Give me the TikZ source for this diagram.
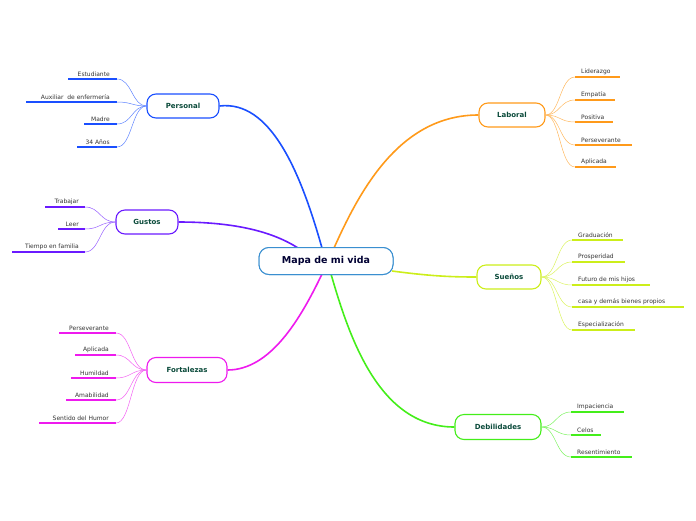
\documentclass[tikz,border=0pt]{standalone}
\usepackage{fontspec}
\setmainfont{DejaVu Sans}
\definecolor{cblue}{HTML}{1A4FFF}
\definecolor{cpurp}{HTML}{6A1AFF}
\definecolor{cmag}{HTML}{EE1AEE}
\definecolor{corg}{HTML}{FF9A1A}
\definecolor{cyel}{HTML}{CCEE1A}
\definecolor{cgrn}{HTML}{44EE1A}
\definecolor{ccen}{HTML}{3A8FD0}
\definecolor{ttxt}{HTML}{0A4A3A}
\begin{document}
\begin{tikzpicture}[x=1pt,y=-1pt,
  branch/.style={draw=#1,line width=1.1pt,rounded corners=9pt,fill=white,font=\bfseries\fontsize{7}{8}\selectfont,text=ttxt,inner sep=0pt},
  main/.style={line width=1.6pt,draw=#1},
  twig/.style={line width=0.5pt,draw=#1!70},
  uline/.style={line width=2.2pt,draw=#1},
  lt/.style={font=\fontsize{6}{7}\selectfont,text=black!80,inner sep=1pt}]
\useasboundingbox (0,0) rectangle (696,520);
\node[draw=ccen,line width=1pt,rounded corners=10pt,fill=white,minimum width=134pt,minimum height=27pt,font=\bfseries\fontsize{9.5}{11}\selectfont,text=black!80!blue] (c) at (326,261) {Mapa de mi vida};
\node[branch=cblue,minimum width=72pt,minimum height=24pt] (P) at (183,106) {Personal};
\node[branch=cpurp,minimum width=62pt,minimum height=24pt] (G) at (147,222) {Gustos};
\node[branch=cmag,minimum width=80pt,minimum height=25pt] (F) at (187,370) {Fortalezas};
\node[branch=corg,minimum width=66pt,minimum height=24pt] (L) at (512,115) {Laboral};
\node[branch=cyel,minimum width=64pt,minimum height=24pt] (S) at (509,277) {Sueños};
\node[branch=cgrn,minimum width=86pt,minimum height=25pt] (D) at (498,427) {Debilidades};
\begin{scope}[on background layer/.style={}]
\end{scope}
% main connectors
\coordinate (cP) at (322,248); \coordinate (cG) at (298,248); \coordinate (cF) at (322,274);
\coordinate (cL) at (334,248); \coordinate (cS) at (392,271); \coordinate (cD) at (331,274);
\draw[main=cblue] (P.east) .. controls (270,100) and (300,170) .. (cP);
\draw[main=cpurp] (G.east) .. controls (230,222) and (270,230) .. (cG);
\draw[main=cmag] (F.east) .. controls (270,370) and (300,320) .. (cF);
\draw[main=corg] (L.west) .. controls (400,115) and (360,190) .. (cL);
\draw[main=cyel] (cS) .. controls (430,276) and (450,277) .. (S.west);
\draw[main=cgrn] (D.west) .. controls (380,427) and (350,340) .. (cD);
\node[draw=ccen,line width=1pt,rounded corners=10pt,fill=white,minimum width=134pt,minimum height=27pt,font=\bfseries\fontsize{9.5}{11}\selectfont,text=black!80!blue] at (326,261) {Mapa de mi vida};
% left leaves: node, color, right x, list of leftx/y/text
\foreach \lx/\ly/\t [count=\i] in {68/79/Estudiante,26/102/Auxiliar\ \ de enfermería,84/124/Madre,77/147/34 Años}{
  \coordinate (pa\i) at (117,\ly); \coordinate (pb\i) at (\lx,\ly);
  \draw[uline=cblue] (pa\i) -- (pb\i);
  \node[lt,anchor=south east] (pt\i) at (111,\ly-1.5) {\t};
  \draw[twig=cblue] (P.west) .. controls (132,106) and (132,\ly) .. (pa\i);}
\foreach \lx/\ly/\t [count=\i] in {45/207/Trabajar,58/229/Leer,12/252/Tiempo en familia}{
  \coordinate (ga\i) at (85,\ly); \coordinate (gb\i) at (\lx,\ly);
  \draw[uline=cpurp] (ga\i) -- (gb\i);
  \node[lt,anchor=south east] (gt\i) at (80,\ly-1.5) {\t};
  \draw[twig=cpurp] (G.west) .. controls (100,222) and (100,\ly) .. (ga\i);}
\foreach \lx/\ly/\t [count=\i] in {59/333/Perseverante,75/355/Aplicada,71/378/Humildad,66/400/Amabilidad,39/423/Sentido del Humor}{
  \coordinate (fa\i) at (116,\ly); \coordinate (fb\i) at (\lx,\ly);
  \draw[uline=cmag] (fa\i) -- (fb\i);
  \node[lt,anchor=south east] (ft\i) at (110,\ly-1.5) {\t};
  \draw[twig=cmag] (F.west) .. controls (131,370) and (131,\ly) .. (fa\i);}
\foreach \rx/\ly/\t [count=\i] in {620/77/Liderazgo,615/100/Empatía,613/122/Positiva,632/145/Perseverante,616/167/Aplicada}{
  \coordinate (la\i) at (575,\ly); \coordinate (lb\i) at (\rx,\ly);
  \draw[uline=corg] (la\i) -- (lb\i);
  \node[lt,anchor=south west] (lt\i) at (580,\ly-1.5) {\t};
  \draw[twig=corg] (L.east) .. controls (560,115) and (560,\ly) .. (la\i);}
\foreach \rx/\ly/\t [count=\i] in {623/240/Graduación,625/262/Prosperidad,650/285/Futuro de mis hijos,684/307/casa y demás bienes propios,635/330/Especialización}{
  \coordinate (sa\i) at (572,\ly); \coordinate (sb\i) at (\rx,\ly);
  \draw[uline=cyel] (sa\i) -- (sb\i);
  \node[lt,anchor=south west] (st\i) at (577,\ly-1.5) {\t};
  \draw[twig=cyel] (S.east) .. controls (557,277) and (557,\ly) .. (sa\i);}
\foreach \rx/\ly/\t [count=\i] in {624/412/Impaciencia,601/435/Celos,632/457/Resentimiento}{
  \coordinate (da\i) at (571,\ly); \coordinate (db\i) at (\rx,\ly);
  \draw[uline=cgrn] (da\i) -- (db\i);
  \node[lt,anchor=south west] (dt\i) at (576,\ly-1.5) {\t};
  \draw[twig=cgrn] (D.east) .. controls (556,427) and (556,\ly) .. (da\i);}
\end{tikzpicture}
\end{document}
